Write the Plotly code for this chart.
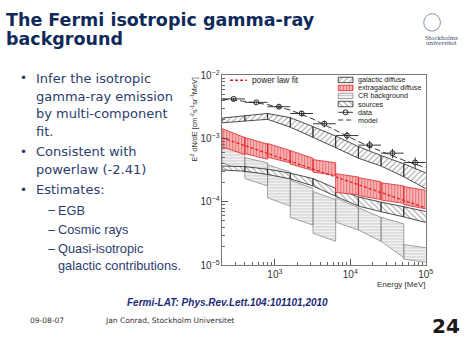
import plotly.graph_objects as go

# ---------------- data ----------------
E_edges = [200, 400, 800, 1600, 3200, 6400, 12800, 25600, 51200, 102400]
data_E = [283, 566, 1131, 2263, 4525, 9051, 18102, 36204, 72408]
data_vals = [4.25e-3, 3.75e-3, 3.2e-3, 2.5e-3, 1.72e-3, 1.12e-3, 7.9e-4, 5.9e-4, 4.2e-4]
data_err = [2.0e-4, 1.8e-4, 2.3e-4, 2.4e-4, 2.1e-4, 1.7e-4, 1.4e-4, 1.0e-4, 8.5e-5]

model_vals = [4.22e-3, 3.89e-3, 3.46e-3, 2.84e-3, 2.04e-3, 1.35e-3, 9.0e-4, 6.3e-4, 4.56e-4, 3.44e-4]

gal_top = [2.12e-3, 2.3e-3, 2.5e-3, 2.15e-3, 1.55e-3, 1.1e-3, 7.5e-4, 5.4e-4, 4.0e-4, 2.85e-4]
gal_bot = [1.78e-3, 1.9e-3, 2.02e-3, 1.52e-3, 1.05e-3, 7.2e-4, 4.9e-4, 3.7e-4, 2.5e-4, 1.6e-4]

src_top = [3.7e-4, 3.61e-4, 3.29e-4, 2.85e-4, 2.34e-4, 1.64e-4, 1.2e-4, 9.9e-5, 8.4e-5, 7.0e-5]
src_bot = [3.2e-4, 3.06e-4, 2.72e-4, 2.31e-4, 1.79e-4, 1.23e-4, 8.6e-5, 7.0e-5, 5.8e-5, 4.7e-5]

egb_top_l = [1.44e-3, 1.04e-3, 8.4e-4, 6.5e-4, 4.67e-4, 2.79e-4, 2.42e-4, 2.01e-4, 1.75e-4]
egb_top_r = [1.04e-3, 8.2e-4, 6.5e-4, 4.9e-4, 4.15e-4, 2.48e-4, 2.08e-4, 1.79e-4, 1.52e-4]
egb_bot_l = [7.4e-4, 5.8e-4, 5.1e-4, 3.96e-4, 2.96e-4, 1.41e-4, 1.26e-4, 1.07e-4, 9.1e-5]
egb_bot_r = [5.6e-4, 4.72e-4, 4.15e-4, 3.13e-4, 2.63e-4, 1.30e-4, 1.09e-4, 9.5e-5, 7.7e-5]

cr_top_l = [7.8e-4, 5.0e-4, 3.87e-4, 2.2e-4, 1.46e-4, 1.16e-4, 8.1e-5, 5.7e-5, 2.12e-5]
cr_top_r = [6.3e-4, 4.15e-4, 2.96e-4, 1.64e-4, 1.09e-4, 8.1e-5, 5.7e-5, 4.5e-5, 1.88e-5]
cr_bot_l = [4.2e-4, 2.34e-4, 1.16e-4, 5.7e-5, 3.2e-5, 4.8e-5, 3.6e-5, 2.38e-5, 1.25e-5]
cr_bot_r = [2.96e-4, 1.79e-4, 8.6e-5, 4.3e-5, 2.38e-5, 3.6e-5, 2.38e-5, 1.32e-5, 1.11e-5]

pl_E = [200, 100000]
pl_vals = [1.03e-3, 8.05e-5]

legend_labels = ["galactic diffuse", "extragalactic diffuse", "CR background", "sources", "data", "model"]

W, H = 474, 355
def PX(x): return x / W
def PY(y): return 1 - y / H

fig = go.Figure()

def bin_polys(tl, tr, bl, br):
    xs, ys = [], []
    for i in range(len(tl)):
        lo, hi = E_edges[i], E_edges[i + 1]
        xs += [lo, hi, hi, lo, lo, None]
        ys += [tl[i], tr[i], br[i], bl[i], tl[i], None]
    return xs, ys

def edge_polys(top, bot):
    return bin_polys(top[:-1], top[1:], bot[:-1], bot[1:])

styles = {
    "gal": dict(shape="/", fg="#3a3a3a", bg="white", line="#222", size=4, sol=0.25),
    "egb": dict(shape="|", fg="#e2262b", bg="#f7b3b3", line="#e2262b", size=3, sol=0.3),
    "cr": dict(shape="-", fg="#a0a0a0", bg="#f1f1f1", line="#8c8c8c", size=3, sol=0.3),
    "src": dict(shape="\\", fg="#3a3a3a", bg="white", line="#222", size=4, sol=0.25),
}

def band(xs, ys, st, xa="x", ya="y"):
    fig.add_trace(go.Scatter(
        x=xs, y=ys, mode="lines", fill="toself", xaxis=xa, yaxis=ya,
        line=dict(color=st["line"], width=0.8), fillcolor=st["bg"],
        fillpattern=dict(shape=st["shape"], fgcolor=st["fg"], bgcolor=st["bg"],
                         size=st["size"], solidity=st["sol"]),
        showlegend=False, hoverinfo="skip"))

x, y = bin_polys(cr_top_l, cr_top_r, cr_bot_l, cr_bot_r)
band(x, y, styles["cr"])
x, y = edge_polys(src_top, src_bot)
band(x, y, styles["src"])
x, y = bin_polys(egb_top_l, egb_top_r, egb_bot_l, egb_bot_r)
band(x, y, styles["egb"])
x, y = edge_polys(gal_top, gal_bot)
band(x, y, styles["gal"])

# power law fit
fig.add_trace(go.Scatter(x=pl_E, y=pl_vals, mode="lines",
                         line=dict(color="#e02020", width=1.3, dash="3px,2px"),
                         showlegend=False, hoverinfo="skip"))
# model
fig.add_trace(go.Scatter(x=E_edges, y=model_vals, mode="lines",
                         line=dict(color="#222", width=0.9, dash="6px,3px"),
                         showlegend=False, hoverinfo="skip"))
# data
fig.add_trace(go.Scatter(
    x=data_E, y=data_vals, mode="markers",
    marker=dict(symbol="circle-open", size=5, color="#222", line=dict(width=1)),
    error_x=dict(type="data", symmetric=False,
                 array=[E_edges[i + 1] - data_E[i] for i in range(len(data_E))],
                 arrayminus=[data_E[i] - E_edges[i] for i in range(len(data_E))],
                 color="#222", thickness=0.9, width=0),
    error_y=dict(type="data", array=data_err, color="#222", thickness=0.9, width=0),
    showlegend=False, hoverinfo="skip"))

# ---------------- legend (drawn on a pixel overlay axis) ----------------
rows = [75.7, 84.0, 92.3, 100.7, 109.3, 117.3]
sx0, sx1, hh = 344, 359, 2.8
for key, r in zip(["gal", "egb", "cr", "src"], rows[:4]):
    band([sx0, sx1, sx1, sx0, sx0], [r - hh, r - hh, r + hh, r + hh, r - hh], styles[key], "x2", "y2")
fig.add_trace(go.Scatter(x=[sx0, sx1], y=[rows[4], rows[4]], xaxis="x2", yaxis="y2", mode="lines",
                         line=dict(color="#222", width=0.9), showlegend=False, hoverinfo="skip"))
fig.add_trace(go.Scatter(x=[(sx0 + sx1) / 2], y=[rows[4]], xaxis="x2", yaxis="y2", mode="markers",
                         marker=dict(symbol="circle-open", size=5, color="#222"),
                         showlegend=False, hoverinfo="skip"))
fig.add_trace(go.Scatter(x=[sx0, sx1], y=[rows[5], rows[5]], xaxis="x2", yaxis="y2", mode="lines",
                         line=dict(color="#222", width=0.9, dash="5px,3px"), showlegend=False, hoverinfo="skip"))
fig.add_trace(go.Scatter(x=[234, 251], y=[76, 76], xaxis="x2", yaxis="y2", mode="lines",
                         line=dict(color="#e02020", width=1.4, dash="3px,2px"), showlegend=False, hoverinfo="skip"))

ann = []
def text(t, x, y, size, color="#2b3a6b", family="DejaVu Sans", xanchor="left", yanchor="middle", angle=0):
    ann.append(dict(text=t, x=PX(x), y=PY(y), xref="paper", yref="paper", showarrow=False,
                    xanchor=xanchor, yanchor=yanchor, textangle=angle,
                    font=dict(size=size, color=color, family=family)))

for lab, r in zip(legend_labels, rows):
    text(lab, 362, r, 7.2, "#222", "Liberation Sans, Arial")
text("power law fit", 254, 76, 8.3, "#222", "Liberation Sans, Arial")

# axis titles
text("E<sup>2</sup> dN/dE [cm<sup>-2</sup>s<sup>-1</sup>sr<sup>-1</sup>MeV]", 197, 117, 7.3, "#333",
     "Liberation Sans, Arial", xanchor="center", angle=-90)
text("Energy [MeV]", 434, 288, 8, "#333", "Liberation Sans, Arial", xanchor="right")

# slide text
title_col = "#0f2a5a"
text("<b>The Fermi isotropic gamma-ray</b>", 4, 14, 17.5, title_col)
text("<b>background</b>", 4, 33.5, 17.5, title_col)
bul_col = "#2d3c6e"
main_lines = [("Infer the isotropic", 74, True), ("gamma-ray emission", 92.7, False),
              ("by multi-component", 111, False), ("fit.", 129.7, False),
              ("Consistent with", 150, True), ("powerlaw (-2.41)", 169, False),
              ("Estimates:", 189.7, True)]
for t, yy, b in main_lines:
    if b:
        text("•", 18, yy, 12, bul_col)
    text(t, 35, yy, 13, bul_col)
sub_lines = [("EGB", 211, True), ("Cosmic rays", 231, True), ("Quasi-isotropic", 251, True),
             ("galactic contributions.", 268.7, False)]
for t, yy, d in sub_lines:
    if d:
        text("–", 47, yy, 12.5, bul_col, "Liberation Sans, Arial")
    text(t, 56.5, yy, 12.8, bul_col, "Liberation Sans, Arial")

text("<b><i>Fermi-LAT: Phys.Rev.Lett.104:101101,2010</i></b>", 231, 306.5, 10, "#1b2a78",
     "Liberation Sans, Arial", xanchor="center")
text("09-08-07", 28, 325.5, 7.5, "#333")
text("Jan Conrad, Stockholm Universitet", 105, 325.5, 7.5, "#333")
text("<b>24</b>", 470, 331, 20, "#1a1a1a", xanchor="right")
text("Stockholms", 449.5, 32, 5.6, "#2f3f5f", "DejaVu Serif", xanchor="center")
text("universitet", 449.5, 37.5, 5.6, "#2f3f5f", "DejaVu Serif", xanchor="center")

shapes = [dict(type="circle", xref="paper", yref="paper", x0=PX(431), x1=PX(448), y0=PY(25), y1=PY(7),
               line=dict(color="#8294ad", width=1), fillcolor="rgba(0,0,0,0)")]

axis_font = dict(size=8, color="#333", family="Liberation Sans, Arial")
fig.update_layout(
    width=W, height=H, margin=dict(l=0, r=0, t=0, b=0),
    paper_bgcolor="white", plot_bgcolor="rgba(0,0,0,0)",
    showlegend=False, annotations=ann, shapes=shapes,
    xaxis=dict(type="log", range=[2.30103, 5], domain=[PX(226), PX(433)], anchor="y",
               dtick=1, exponentformat="power", ticks="inside", ticklen=6, tickcolor="#555",
               showline=True, linecolor="#777", linewidth=1, mirror=True, showgrid=False, zeroline=False,
               tickfont=axis_font, ticklabelstandoff=0,
               minor=dict(ticks="inside", ticklen=3, tickcolor="#666", dtick="D1", showgrid=False)),
    yaxis=dict(type="log", range=[-5, -2], domain=[PY(268), PY(71)], anchor="x",
               dtick=1, exponentformat="power", ticks="inside", ticklen=6, tickcolor="#555",
               showline=True, linecolor="#777", linewidth=1, mirror=True, showgrid=False, zeroline=False,
               tickfont=axis_font,
               minor=dict(ticks="inside", ticklen=3, tickcolor="#666", dtick="D1", showgrid=False)),
    xaxis2=dict(domain=[0, 1], range=[0, W], visible=False, anchor="y2", fixedrange=True),
    yaxis2=dict(domain=[0, 1], range=[H, 0], visible=False, anchor="x2", fixedrange=True),
)

fig.write_html("out.html", config={"displayModeBar": False},
               post_script="document.body.style.margin='0';")
